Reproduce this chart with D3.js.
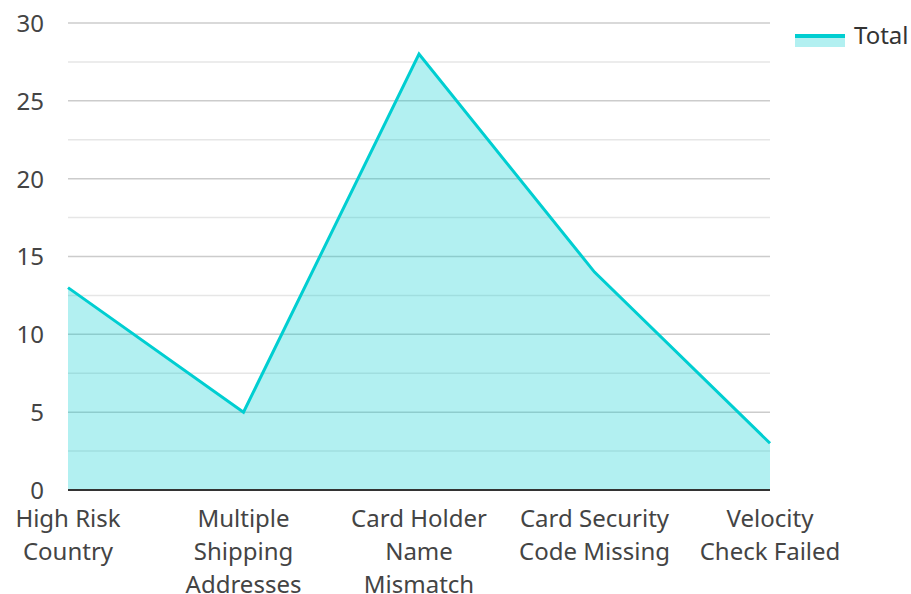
<!DOCTYPE html>
<html lang="en">
<head>
  <meta charset="utf-8">
  <title>Chart</title>
  <style>
    body { margin: 0; background: #fff; font-family: "Noto Sans", "Open Sans", sans-serif; }
    .tick text { font-size: 24px; fill: #444; font-family: "Noto Sans", sans-serif; }
    .grid-major { stroke: #cccccc; stroke-width: 1.5px; }
    .grid-minor { stroke: #e6e6e6; stroke-width: 1.5px; }
  </style>
</head>
<body>
<script src="https://d3js.org/d3.v7.min.js"></script>
<script>
  var categories = [
    ["High Risk", "Country"],
    ["Multiple", "Shipping", "Addresses"],
    ["Card Holder", "Name", "Mismatch"],
    ["Card Security", "Code Missing"],
    ["Velocity", "Check Failed"]
  ];
  var totals = [13, 5, 28, 14, 3];
  var yTicks = [0, 5, 10, 15, 20, 25, 30];
  var minorTicks = [2.5, 7.5, 12.5, 17.5, 22.5, 27.5];
  var seriesName = "Total";
  var color = "#00ced1";

  var width = 911, height = 594;
  var plotLeft = 68, plotRight = 770, plotTop = 23, plotBottom = 490;

  var svg = d3.select("body").append("svg")
    .attr("width", width)
    .attr("height", height);

  var keys = categories.map(function(d) { return d.join(" "); });
  var x = d3.scalePoint().domain(keys).range([plotLeft, plotRight]).padding(0);
  var y = d3.scaleLinear().domain([0, 30]).range([plotBottom, plotTop]);

  // gridlines
  svg.append("g").selectAll("line")
    .data(minorTicks)
    .enter().append("line")
      .attr("class", "grid-minor")
      .attr("x1", plotLeft).attr("x2", plotRight)
      .attr("y1", function(d) { return y(d); })
      .attr("y2", function(d) { return y(d); });

  svg.append("g").selectAll("line")
    .data(yTicks.filter(function(d) { return d > 0; }))
    .enter().append("line")
      .attr("class", "grid-major")
      .attr("x1", plotLeft).attr("x2", plotRight)
      .attr("y1", function(d) { return y(d); })
      .attr("y2", function(d) { return y(d); });

  // area + line
  var area = d3.area()
    .x(function(d, i) { return x(keys[i]); })
    .y0(y(0))
    .y1(function(d) { return y(d); });

  var line = d3.line()
    .x(function(d, i) { return x(keys[i]); })
    .y(function(d) { return y(d); });

  svg.append("path")
    .datum(totals)
    .attr("d", area)
    .attr("fill", color)
    .attr("fill-opacity", 0.3);

  svg.append("path")
    .datum(totals)
    .attr("d", line)
    .attr("fill", "none")
    .attr("stroke", color)
    .attr("stroke-width", 3)
    .attr("stroke-linejoin", "miter");

  // y axis labels
  var yAxis = svg.append("g")
    .attr("transform", "translate(" + plotLeft + ",0)")
    .call(d3.axisLeft(y).tickValues(yTicks).tickSize(0).tickPadding(24));
  yAxis.select(".domain").remove();
  yAxis.selectAll("text").attr("dy", "0.35em");

  // x axis
  svg.append("line")
    .attr("x1", plotLeft).attr("x2", plotRight)
    .attr("y1", plotBottom).attr("y2", plotBottom)
    .attr("stroke", "#333")
    .attr("stroke-width", 2);

  var xLabels = svg.append("g").selectAll("text")
    .data(categories)
    .enter().append("text")
      .attr("x", function(d) { return x(d.join(" ")); })
      .attr("y", 527)
      .attr("text-anchor", "middle")
      .style("font-size", "24px")
      .style("fill", "#444");

  xLabels.selectAll("tspan")
    .data(function(d) { return d; })
    .enter().append("tspan")
      .attr("x", function() { return d3.select(this.parentNode).attr("x"); })
      .attr("dy", function(d, i) { return i === 0 ? 0 : 33; })
      .text(function(d) { return d; });

  // legend
  var legend = svg.append("g").attr("transform", "translate(795,36)");
  legend.append("rect")
    .attr("x", 0).attr("y", 0)
    .attr("width", 50).attr("height", 11)
    .attr("fill", color).attr("fill-opacity", 0.3);
  legend.append("line")
    .attr("x1", 0).attr("x2", 50)
    .attr("y1", 0).attr("y2", 0)
    .attr("stroke", color).attr("stroke-width", 4);
  legend.append("text")
    .attr("x", 59).attr("y", 0)
    .attr("dy", "0.35em")
    .style("font-size", "24px")
    .style("fill", "#333")
    .text(seriesName);
</script>
</body>
</html>
